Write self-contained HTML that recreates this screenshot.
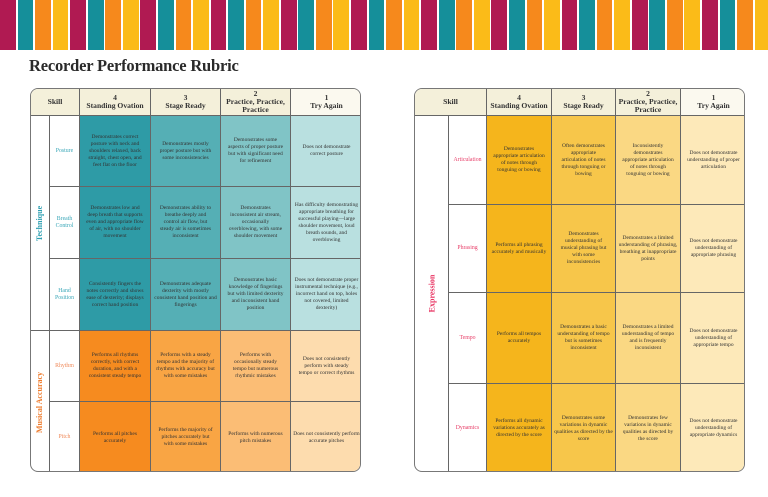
<!DOCTYPE html>
<html><head><meta charset="utf-8">
<style>
*{margin:0;padding:0;box-sizing:border-box}
body{width:768px;height:497px;background:#fff;position:relative;overflow:hidden;font-family:"Liberation Serif",serif;color:#333}
#stripes{position:absolute;left:0;top:0;width:768px;height:50px}
.s{position:absolute;top:0;height:50px;width:15.8px}
h1{position:absolute;left:29px;top:56px;font-size:16.5px;font-weight:bold;color:#2a2a2a;letter-spacing:-0.2px}
.tbl{position:absolute;top:88px;border:1px solid #777;border-radius:8px;overflow:hidden;background:#fff}
.c{position:absolute;display:flex;align-items:center;justify-content:center;text-align:center;font-size:5.5px;line-height:7px;border-right:1px solid #666;border-bottom:1px solid #666;padding:2px 6px}
.h{background:#f4f0da;font-weight:bold;font-size:7.6px;line-height:8px;color:#333;padding:1px}
.h1c{background:#fbf9ef}
.sk{font-size:5.8px;padding:2px}
.g{position:absolute;display:flex;align-items:center;justify-content:center;border-right:1px solid #666;border-bottom:1px solid #666}
.g span{transform:rotate(-90deg);white-space:nowrap;font-weight:bold;font-size:8px}
</style></head><body>
<div id="stripes"></div>
<h1>Recorder Performance Rubric</h1>

<div class="tbl" style="left:30px;width:331px;height:384px">
 <div class="c h" style="left:0;top:0;width:49px;height:27px">Skill</div>
 <div class="c h" style="left:49px;top:0;width:71px;height:27px">4<br>Standing Ovation</div>
 <div class="c h" style="left:120px;top:0;width:70px;height:27px">3<br>Stage Ready</div>
 <div class="c h" style="left:190px;top:0;width:70px;height:27px">2<br>Practice, Practice,<br>Practice</div>
 <div class="c h h1c" style="left:260px;top:0;width:71px;height:27px;border-right:none">1<br>Try Again</div>

 <div class="g" style="left:0;top:27px;width:19px;height:215px"><span style="color:#2fa0b2">Technique</span></div>
 <div class="g" style="left:0;top:242px;width:19px;height:142px;border-bottom:none"><span style="color:#ee7b2c">Musical Accuracy</span></div>

 <div class="c sk" style="left:19px;top:27px;width:30px;height:71px;color:#3aa7b8">Posture</div>
 <div class="c" style="left:49px;top:27px;width:71px;height:71px;background:#2e9ba6">Demonstrates correct posture with neck and shoulders relaxed, back straight, chest open, and feet flat on the floor</div>
 <div class="c" style="left:120px;top:27px;width:70px;height:71px;background:#55afb5">Demonstrates mostly proper posture but with some inconsistencies</div>
 <div class="c" style="left:190px;top:27px;width:70px;height:71px;background:#80c4c6">Demonstrates some aspects of proper posture but with significant need for refinement</div>
 <div class="c" style="left:260px;top:27px;width:71px;height:71px;background:#b9e0e0;border-right:none">Does not demonstrate correct posture</div>

 <div class="c sk" style="left:19px;top:98px;width:30px;height:72px;color:#3aa7b8">Breath<br>Control</div>
 <div class="c" style="left:49px;top:98px;width:71px;height:72px;background:#2e9ba6">Demonstrates low and deep breath that supports even and appropriate flow of air, with no shoulder movement</div>
 <div class="c" style="left:120px;top:98px;width:70px;height:72px;background:#55afb5">Demonstrates ability to breathe deeply and control air flow, but steady air is sometimes inconsistent</div>
 <div class="c" style="left:190px;top:98px;width:70px;height:72px;background:#80c4c6">Demonstrates inconsistent air stream, occasionally overblowing, with some shoulder movement</div>
 <div class="c" style="left:260px;top:98px;width:71px;height:72px;background:#b9e0e0;border-right:none;padding:2px 3px">Has difficulty demonstrating appropriate breathing for successful playing—large shoulder movement, loud breath sounds, and overblowing</div>

 <div class="c sk" style="left:19px;top:170px;width:30px;height:72px;color:#3aa7b8">Hand<br>Position</div>
 <div class="c" style="left:49px;top:170px;width:71px;height:72px;background:#2e9ba6">Consistently fingers the notes correctly and shows ease of dexterity; displays correct hand position</div>
 <div class="c" style="left:120px;top:170px;width:70px;height:72px;background:#55afb5;padding:2px 3px">Demonstrates adequate dexterity with mostly consistent hand position and fingerings</div>
 <div class="c" style="left:190px;top:170px;width:70px;height:72px;background:#80c4c6">Demonstrates basic knowledge of fingerings but with limited dexterity and inconsistent hand position</div>
 <div class="c" style="left:260px;top:170px;width:71px;height:72px;background:#b9e0e0;border-right:none;padding:2px 3px">Does not demonstrate proper instrumental technique (e.g., incorrect hand on top, holes not covered, limited dexterity)</div>

 <div class="c sk" style="left:19px;top:242px;width:30px;height:71px;color:#f08a5a">Rhythm</div>
 <div class="c" style="left:49px;top:242px;width:71px;height:71px;background:#f68b1f;padding:2px 3px">Performs all rhythms correctly, with correct duration, and with a consistent steady tempo</div>
 <div class="c" style="left:120px;top:242px;width:70px;height:71px;background:#f9a544;padding:2px 3px">Performs with a steady tempo and the majority of rhythms with accuracy but with some mistakes</div>
 <div class="c" style="left:190px;top:242px;width:70px;height:71px;background:#fbbd75">Performs with occasionally steady tempo but numerous rhythmic mistakes</div>
 <div class="c" style="left:260px;top:242px;width:71px;height:71px;background:#fddcae;border-right:none">Does not consistently perform with steady tempo or correct rhythms</div>

 <div class="c sk" style="left:19px;top:313px;width:30px;height:71px;color:#f08a5a;border-bottom:none">Pitch</div>
 <div class="c" style="left:49px;top:313px;width:71px;height:71px;background:#f68b1f;border-bottom:none">Performs all pitches accurately</div>
 <div class="c" style="left:120px;top:313px;width:70px;height:71px;background:#f9a544;border-bottom:none">Performs the majority of pitches accurately but with some mistakes</div>
 <div class="c" style="left:190px;top:313px;width:70px;height:71px;background:#fbbd75;border-bottom:none;padding:2px 3px">Performs with numerous pitch mistakes</div>
 <div class="c" style="left:260px;top:313px;width:71px;height:71px;background:#fddcae;border:none;padding:2px 2px">Does not consistently perform accurate pitches</div>
</div>

<div class="tbl" style="left:414px;width:331px;height:384px">
 <div class="c h" style="left:0;top:0;width:72px;height:27px">Skill</div>
 <div class="c h" style="left:72px;top:0;width:65px;height:27px">4<br>Standing Ovation</div>
 <div class="c h" style="left:137px;top:0;width:64px;height:27px">3<br>Stage Ready</div>
 <div class="c h" style="left:201px;top:0;width:65px;height:27px">2<br>Practice, Practice,<br>Practice</div>
 <div class="c h h1c" style="left:266px;top:0;width:65px;height:27px;border-right:none">1<br>Try Again</div>

 <div class="g" style="left:0;top:27px;width:34px;height:357px;border-bottom:none;align-items:flex-start;padding-top:173px"><span style="color:#e8305f">Expression</span></div>

 <div class="c sk" style="left:34px;top:27px;width:38px;height:89px;color:#e8406a">Articulation</div>
 <div class="c" style="left:72px;top:27px;width:65px;height:89px;background:#f5b51c">Demonstrates appropriate articulation of notes through tonguing or bowing</div>
 <div class="c" style="left:137px;top:27px;width:64px;height:89px;background:#f7c64a">Often demonstrates appropriate articulation of notes through tonguing or bowing</div>
 <div class="c" style="left:201px;top:27px;width:65px;height:89px;background:#fad883">Inconsistently demonstrates appropriate articulation of notes through tonguing or bowing</div>
 <div class="c" style="left:266px;top:27px;width:65px;height:89px;background:#fde9b9;border-right:none;padding:2px 3px">Does not demonstrate understanding of proper articulation</div>

 <div class="c sk" style="left:34px;top:116px;width:38px;height:88px;color:#e8406a">Phrasing</div>
 <div class="c" style="left:72px;top:116px;width:65px;height:88px;background:#f5b51c;padding:2px 3px">Performs all phrasing accurately and musically</div>
 <div class="c" style="left:137px;top:116px;width:64px;height:88px;background:#f7c64a">Demonstrates understanding of musical phrasing but with some inconsistencies</div>
 <div class="c" style="left:201px;top:116px;width:65px;height:88px;background:#fad883;padding:2px 2px">Demonstrates a limited understanding of phrasing, breathing at inappropriate points</div>
 <div class="c" style="left:266px;top:116px;width:65px;height:88px;background:#fde9b9;border-right:none;padding:2px 3px">Does not demonstrate understanding of appropriate phrasing</div>

 <div class="c sk" style="left:34px;top:204px;width:38px;height:91px;color:#e8406a">Tempo</div>
 <div class="c" style="left:72px;top:204px;width:65px;height:91px;background:#f5b51c">Performs all tempos accurately</div>
 <div class="c" style="left:137px;top:204px;width:64px;height:91px;background:#f7c64a;padding:2px 3px">Demonstrates a basic understanding of tempo but is sometimes inconsistent</div>
 <div class="c" style="left:201px;top:204px;width:65px;height:91px;background:#fad883;padding:2px 3px">Demonstrates a limited understanding of tempo and is frequently inconsistent</div>
 <div class="c" style="left:266px;top:204px;width:65px;height:91px;background:#fde9b9;border-right:none;padding:2px 3px">Does not demonstrate understanding of appropriate tempo</div>

 <div class="c sk" style="left:34px;top:295px;width:38px;height:89px;color:#e8406a;border-bottom:none">Dynamics</div>
 <div class="c" style="left:72px;top:295px;width:65px;height:89px;background:#f5b51c;border-bottom:none;padding:2px 3px">Performs all dynamic variations accurately as directed by the score</div>
 <div class="c" style="left:137px;top:295px;width:64px;height:89px;background:#f7c64a;border-bottom:none;padding:2px 2px">Demonstrates some variations in dynamic qualities as directed by the score</div>
 <div class="c" style="left:201px;top:295px;width:65px;height:89px;background:#fad883;border-bottom:none;padding:2px 3px">Demonstrates few variations in dynamic qualities as directed by the score</div>
 <div class="c" style="left:266px;top:295px;width:65px;height:89px;background:#fde9b9;border:none;padding:2px 3px">Does not demonstrate understanding of appropriate dynamics</div>
</div>

<script>
var stripeColors = ['#b01a52','#158f9a','#f6891c','#fbbb18'];
var st = document.getElementById('stripes');
for (var i = 0; i < 44; i++) {
  var d = document.createElement('div');
  d.className = 's';
  d.style.left = (i * 17.55) + 'px';
  d.style.background = stripeColors[i % 4];
  
  
  st.appendChild(d);
}
</script>
</body></html>
